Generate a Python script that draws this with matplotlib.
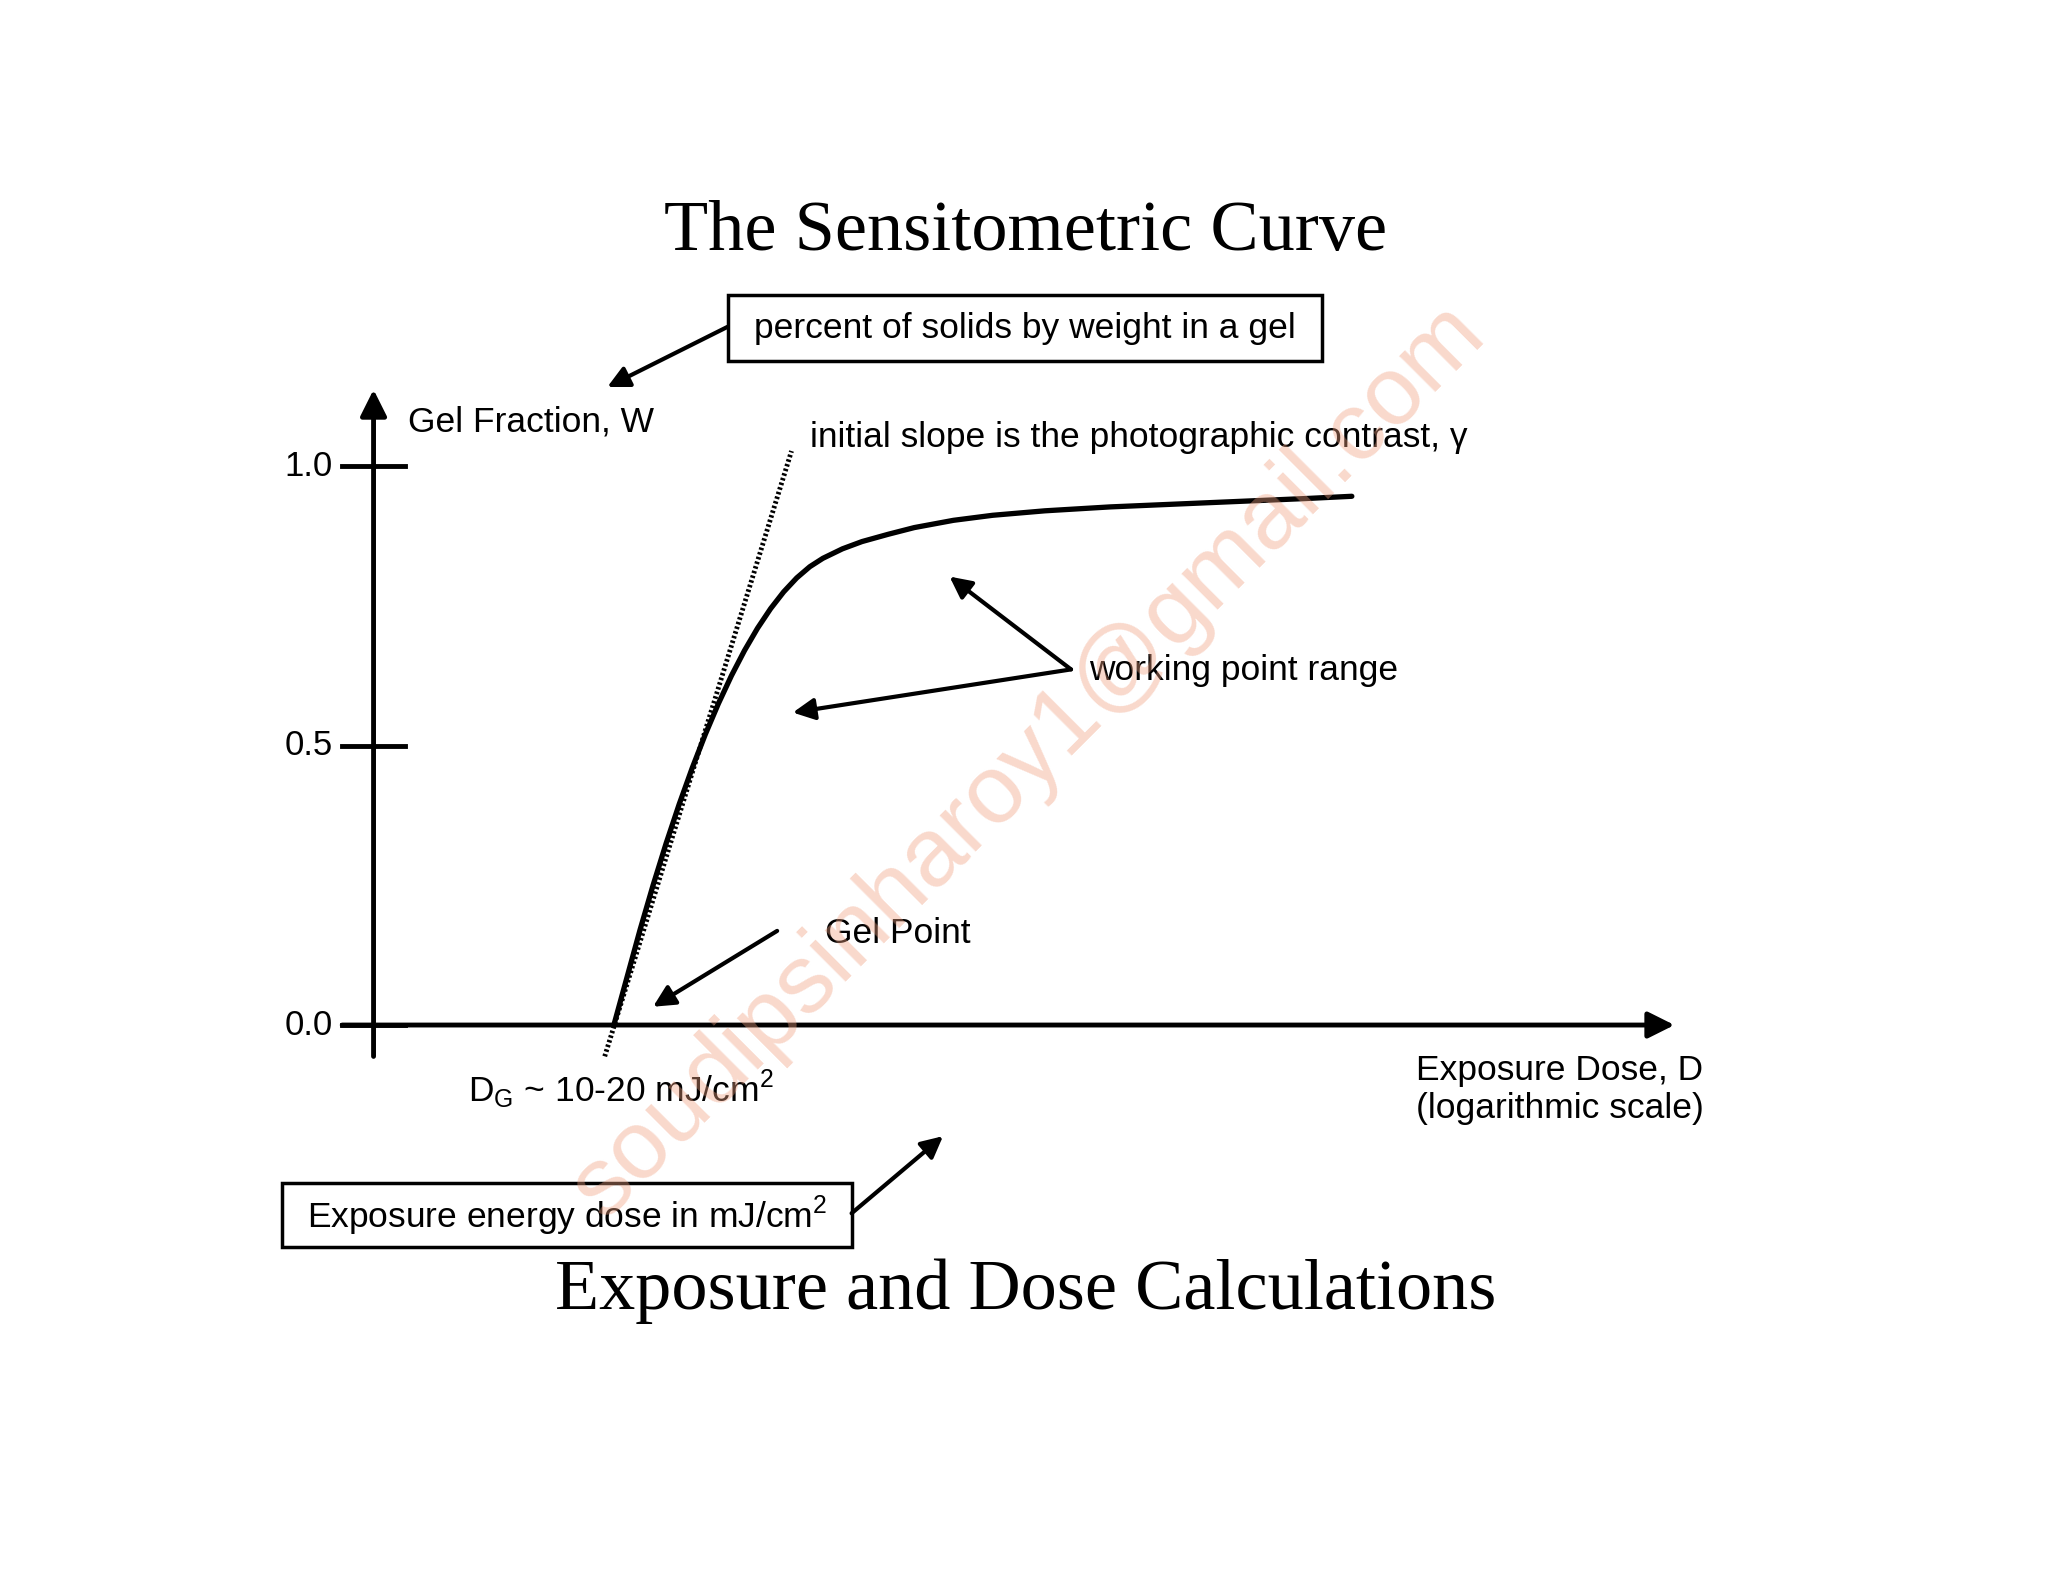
import matplotlib
matplotlib.use("Agg")
import matplotlib.pyplot as plt
import numpy as np
from matplotlib.patches import Rectangle

W, H = 1568, 1210
Y0, YS = 784, 427.5
def Y(py): return (Y0 - py) / YS

# curve data (x in layout units, y gel fraction)
curve_x = [470, 480, 490, 500, 510, 520, 530, 540, 550, 560, 570, 580, 590, 600, 610, 620,
           630, 645, 660, 680, 700, 730, 760, 800, 850, 900, 950, 1000, 1035]
curve_y = [0.0, 0.085, 0.17, 0.25, 0.325, 0.395, 0.46, 0.52, 0.575, 0.625, 0.67, 0.71, 0.745,
           0.775, 0.8, 0.82, 0.835, 0.852, 0.865, 0.878, 0.89, 0.903, 0.912, 0.92, 0.927,
           0.932, 0.937, 0.942, 0.946]
tangent_x = [463, 606]
tangent_y = [-0.056, 1.027]
ticks = [0.0, 0.5, 1.0]
tick_labels = ["0.0", "0.5", "1.0"]

fig = plt.figure(figsize=(20.48, 15.82), dpi=100)
ax = fig.add_axes([0, 0, 1, 1])
ax.set_xlim(0, W); ax.set_ylim(Y(H), Y(0)); ax.axis("off")

lw = 3.5
ap = dict(arrowstyle="-|>,head_length=1.6,head_width=0.8", lw=lw, color="black", shrinkA=0, shrinkB=0)
ax.annotate("", xy=(286, Y(298)), xytext=(286, Y(808)), arrowprops=ap)
ax.annotate("", xy=(1282, 0), xytext=(262, 0), arrowprops=ap)
for t, l in zip(ticks, tick_labels):
    ax.plot([262, 310], [t, t], color="black", lw=lw)
    ax.text(255, t, l, ha="right", va="center", fontsize=25, family="Liberation Sans")

ax.plot(curve_x, curve_y, color="black", lw=3.8, solid_capstyle="round", solid_joinstyle="round")
ax.plot(tangent_x, tangent_y, color="black", lw=3.5, ls=(0, (0.5, 0.5)))

sp = dict(arrowstyle="-|>,head_length=1.3,head_width=0.65", lw=3, color="black", shrinkA=0, shrinkB=0)
for (x0, y0, x1, y1) in [(557, 250, 465, 296), (820, 512, 727, 441), (820, 512, 607, 545),
                         (595, 712, 500, 770), (652, 928, 722, 869)]:
    ax.annotate("", xy=(x1, Y(y1)), xytext=(x0, Y(y0)), arrowprops=sp)

fs = 25.5
kw = dict(fontsize=fs, family="Liberation Sans")
ax.text(312, Y(323), "Gel Fraction, W", va="center", **kw)
ax.text(620, Y(335), "initial slope is the photographic contrast, γ", va="center", **kw)
ax.text(834, Y(513), "working point range", va="center", **kw)
ax.text(632, Y(714), "Gel Point", va="center", **kw)
ax.text(358, Y(833), r"D$_\mathregular{G}$ ~ 10-20 mJ/cm$^\mathregular{2}$", va="center", **kw)
ax.text(1084, Y(806), "Exposure Dose, D\n(logarithmic scale)", va="top", linespacing=1.2, **kw)
ax.text(785, Y(251), "percent of solids by weight in a gel", ha="center", va="center", **kw)
ax.text(434, Y(930), r"Exposure energy dose in mJ/cm$^\mathregular{2}$", ha="center", va="center", **kw)
ax.add_patch(Rectangle((557, Y(276)), 455, 50 / YS, fill=False, lw=2.5, ec="black"))
ax.add_patch(Rectangle((216, Y(954)), 436, 49 / YS, fill=False, lw=2.5, ec="black"))

ax.text(785, Y(178), "The Sensitometric Curve", ha="center", va="center", fontsize=52, family="Liberation Serif")
ax.text(785, Y(988), "Exposure and Dose Calculations", ha="center", va="center", fontsize=52, family="Liberation Serif")

ax.text(787, Y(582), "soudipsinharoy1@gmail.com", ha="center", va="center", rotation=45,
        fontsize=70, family="Liberation Sans", color="#f0a080", alpha=0.4, rotation_mode="anchor")

fig.savefig("out.png", dpi=100, facecolor="white")
